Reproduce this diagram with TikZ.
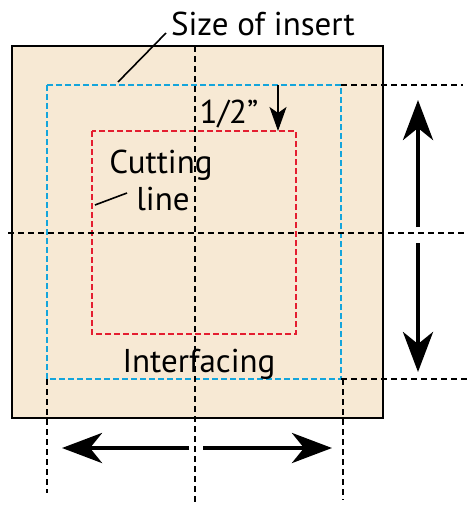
\documentclass[tikz,border=0pt]{standalone}
\usepackage{fontspec}
\setmainfont{PT Sans}
\usetikzlibrary{arrows.meta}
\definecolor{cFab}{RGB}{247,233,212}
\definecolor{cIns}{RGB}{20,165,220}
\definecolor{cCut}{RGB}{228,30,48}

\begin{document}
\begin{tikzpicture}[x=1pt, y=-1pt,
    guide/.style={draw=black, line width=2pt, dash pattern=on 6pt off 4pt},
    insertline/.style={draw=cIns, line width=2pt, dash pattern=on 6pt off 3pt},
    cutline/.style={draw=cCut, line width=2pt, dash pattern=on 6pt off 3pt},
    bigarrow/.style={line width=4.5pt, -{Stealth[length=40pt, width=30pt, inset=12pt]}},
    smallarrow/.style={line width=2pt, -{Stealth[length=24pt, width=17pt, inset=6pt]}},
    leader/.style={line width=1.6pt},
    lbl/.style={font=\fontsize{33}{36}\selectfont, inner sep=0pt, anchor=base}]
    \useasboundingbox (0,0) rectangle (475,508);

    % Fabric piece and the two outlines
    \draw[fill=cFab, line width=2.2pt] (12,46) rectangle (383,418);
    \draw[insertline] (47,85) rectangle (341,379);
    \draw[cutline] (92,131) rectangle (296,334);

    % Guide coordinates
    \coordinate (vtop) at (195,46);
    \coordinate (vbot) at (195,502);
    \coordinate (hleft) at (8,233);
    \coordinate (hright) at (467,233);
    \coordinate (tr0) at (341,85);
    \coordinate (tr1) at (463,85);
    \coordinate (br0) at (341,379);
    \coordinate (br1) at (470,379);
    \coordinate (lv0) at (47,379);
    \coordinate (lv1) at (47,493);
    \coordinate (rv0) at (343,379);
    \coordinate (rv1) at (343,500);

    % Labels
    \node[lbl] (size) at (263,36) {Size of insert};
    \node[lbl] (half) at (229,123) {1/2''};
    \node[lbl] (cut1) at (161,173) {Cutting};
    \node[lbl] (cut2) at (163,210) {line};
    \node[lbl] (inter) at (199,372) {Interfacing};

    % Dashed guides
    \draw[guide] (vtop) -- (vbot);
    \draw[guide] (hleft) -- (hright);
    \draw[guide] (tr0) -- (tr1);
    \draw[guide] (br0) -- (br1);
    \draw[guide] (lv0) -- (lv1);
    \draw[guide] (rv0) -- (rv1);

    % Leaders
    \coordinate (sizept) at (118,82);
    \coordinate (cutpt) at (95,205);
    \draw[leader] (166,33) -- (sizept);
    \draw[leader] (127,193) -- (cutpt);

    % 1/2 inch arrow
    \coordinate (ha0) at (278,85);
    \coordinate (ha1) at (278,131);
    \draw[smallarrow] (ha0) -- (ha1);

    % Size arrows
    \coordinate (vmid0) at (418,227);
    \coordinate (vup) at (418,100);
    \coordinate (vmid1) at (418,243);
    \coordinate (vdown) at (418,372);
    \coordinate (hmid0) at (189,448);
    \coordinate (hl) at (62,448);
    \coordinate (hmid1) at (203,448);
    \coordinate (hr) at (332,448);
    \draw[bigarrow] (vmid0) -- (vup);
    \draw[bigarrow] (vmid1) -- (vdown);
    \draw[bigarrow] (hmid0) -- (hl);
    \draw[bigarrow] (hmid1) -- (hr);
\end{tikzpicture}
\end{document}
